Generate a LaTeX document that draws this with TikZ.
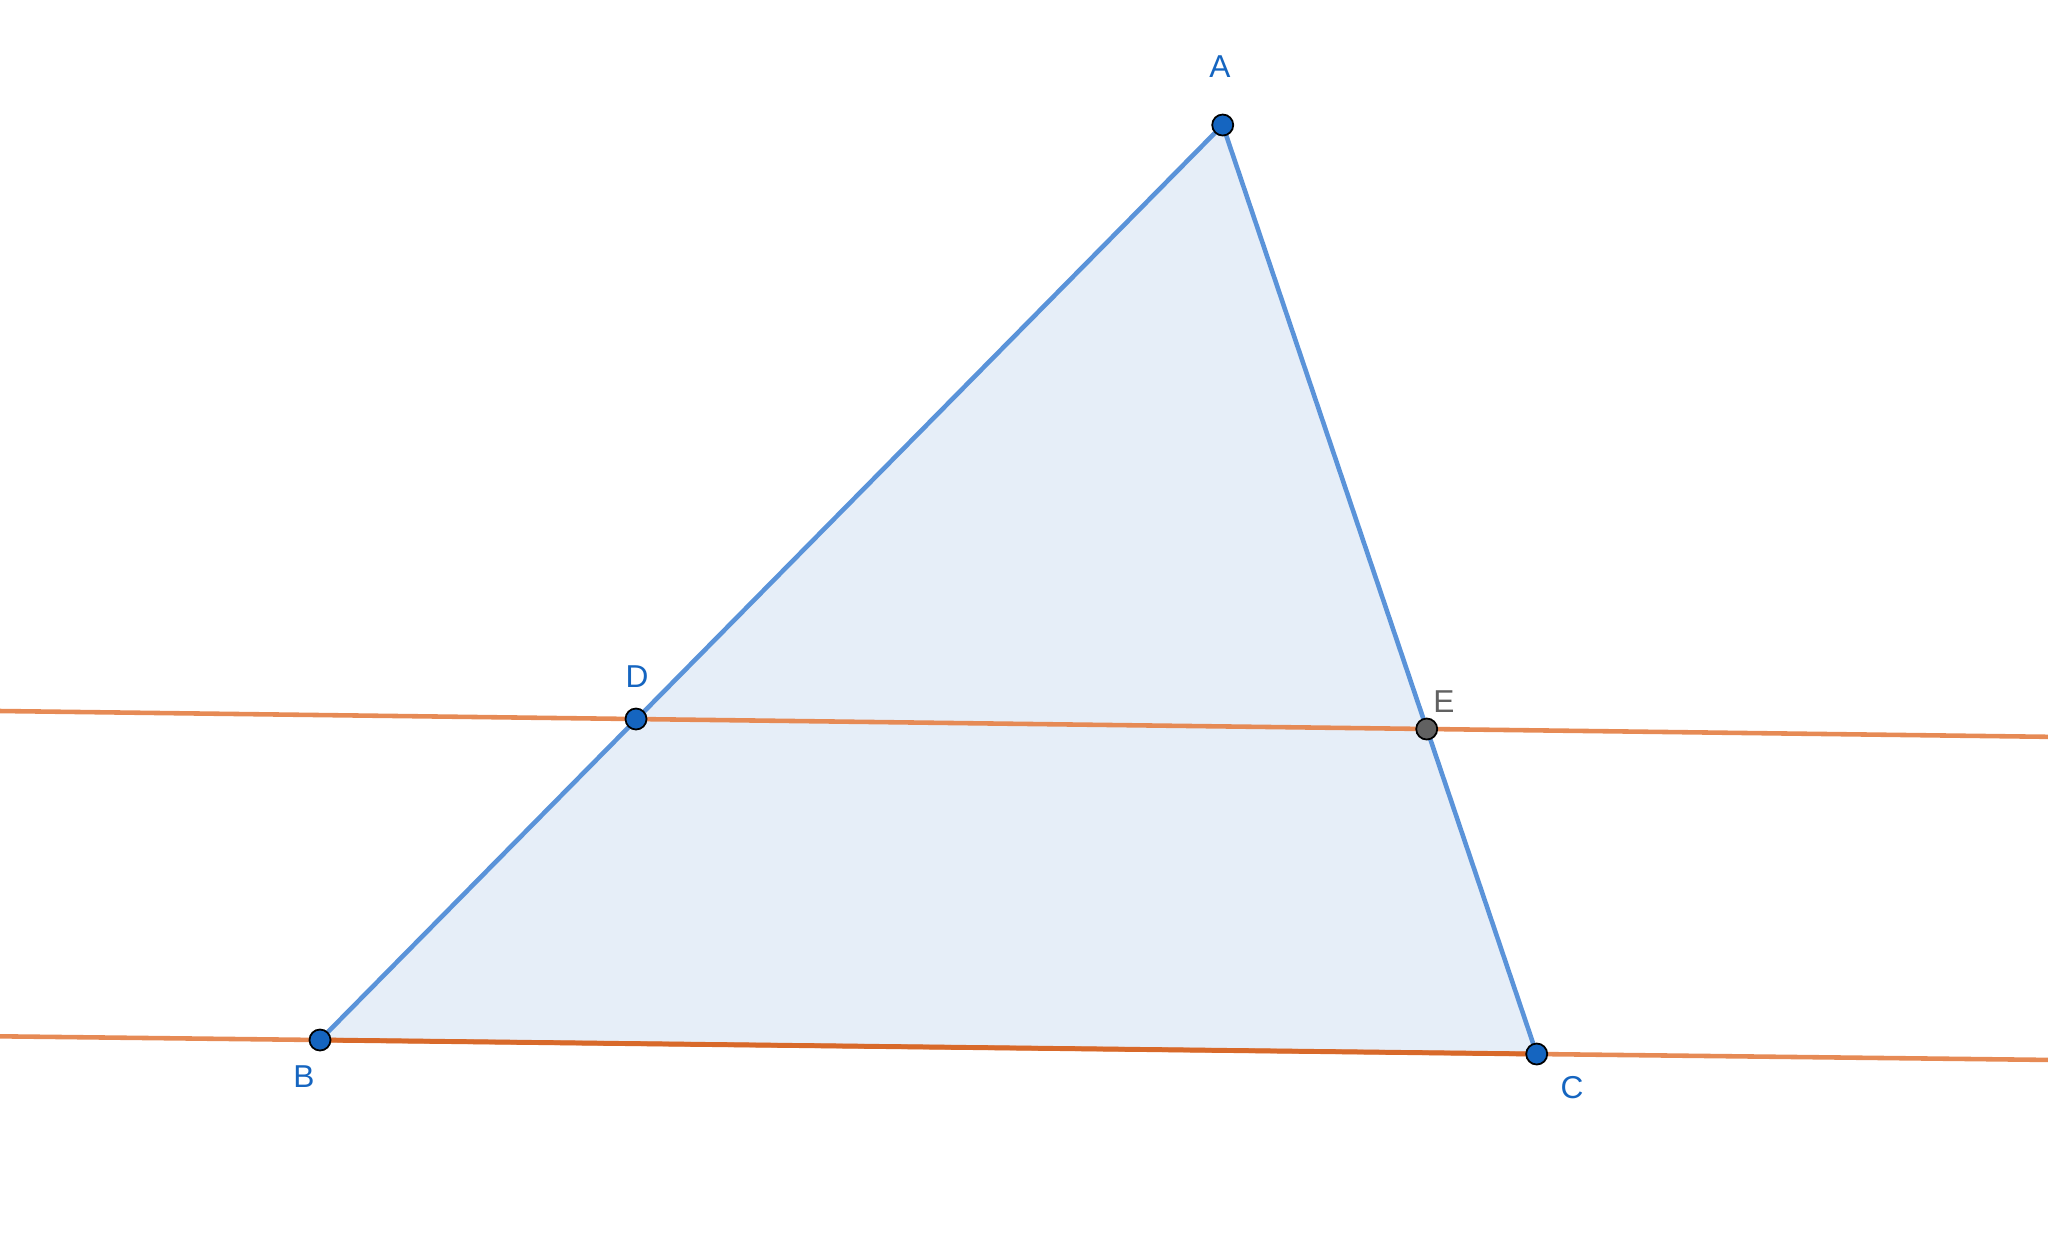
\documentclass[tikz,border=0pt]{standalone}
\usepackage{fontspec}
\setmainfont{Liberation Sans}
\definecolor{edgeblue}{HTML}{5A93D9}
\definecolor{fillblue}{HTML}{E6EEF8}
\definecolor{lineorange}{HTML}{E68A55}
\definecolor{segorange}{HTML}{D8692A}
\definecolor{ptblue}{HTML}{1565C0}
\definecolor{ptgray}{HTML}{616161}
\tikzset{
  edge/.style={draw=edgeblue, line width=1.3pt},
  oline/.style={draw=lineorange, line width=1.3pt},
  oseg/.style={draw=segorange, line width=1.4pt},
  pt/.style={circle, draw=black, line width=0.5pt, inner sep=0pt, minimum size=0.21cm},
  lbl/.style={inner sep=0pt, font=\fontsize{9}{11}\selectfont}
}
\begin{document}
\begin{tikzpicture}[x=0.01cm,y=-0.01cm]
\useasboundingbox (0,0) rectangle (2048,1244);
\coordinate (A) at (1222.7,125);
\coordinate (B) at (320,1040);
\coordinate (C) at (1536.7,1054);
\coordinate (D) at (636,719);
\coordinate (E) at (1426.7,729);
\coordinate (L1) at (0,711);
\coordinate (R1) at (2048,736.8);
\coordinate (L2) at (0,1036.3);
\coordinate (R2) at (2048,1059.9);
\fill[fillblue] (A) -- (B) -- (C) -- cycle;
\draw[oline] (L1) -- (R1);
\draw[oline] (L2) -- (R2);
\draw[edge] (A) -- (B);
\draw[edge] (A) -- (C);
\draw[oseg] (B) -- (C);
\node[pt, fill=ptblue] (pA) at (A) {};
\node[pt, fill=ptblue] (pB) at (B) {};
\node[pt, fill=ptblue] (pC) at (C) {};
\node[pt, fill=ptblue] (pD) at (D) {};
\node[pt, fill=ptgray] (pE) at (E) {};
\node[lbl, text=ptblue] (tA) at (1220,67) {A};
\node[lbl, text=ptblue] (tB) at (304,1077) {B};
\node[lbl, text=ptblue] (tC) at (1572,1088) {C};
\node[lbl, text=ptblue] (tD) at (637,677) {D};
\node[lbl, text=ptgray] (tE) at (1444,702) {E};
\end{tikzpicture}
\end{document}
